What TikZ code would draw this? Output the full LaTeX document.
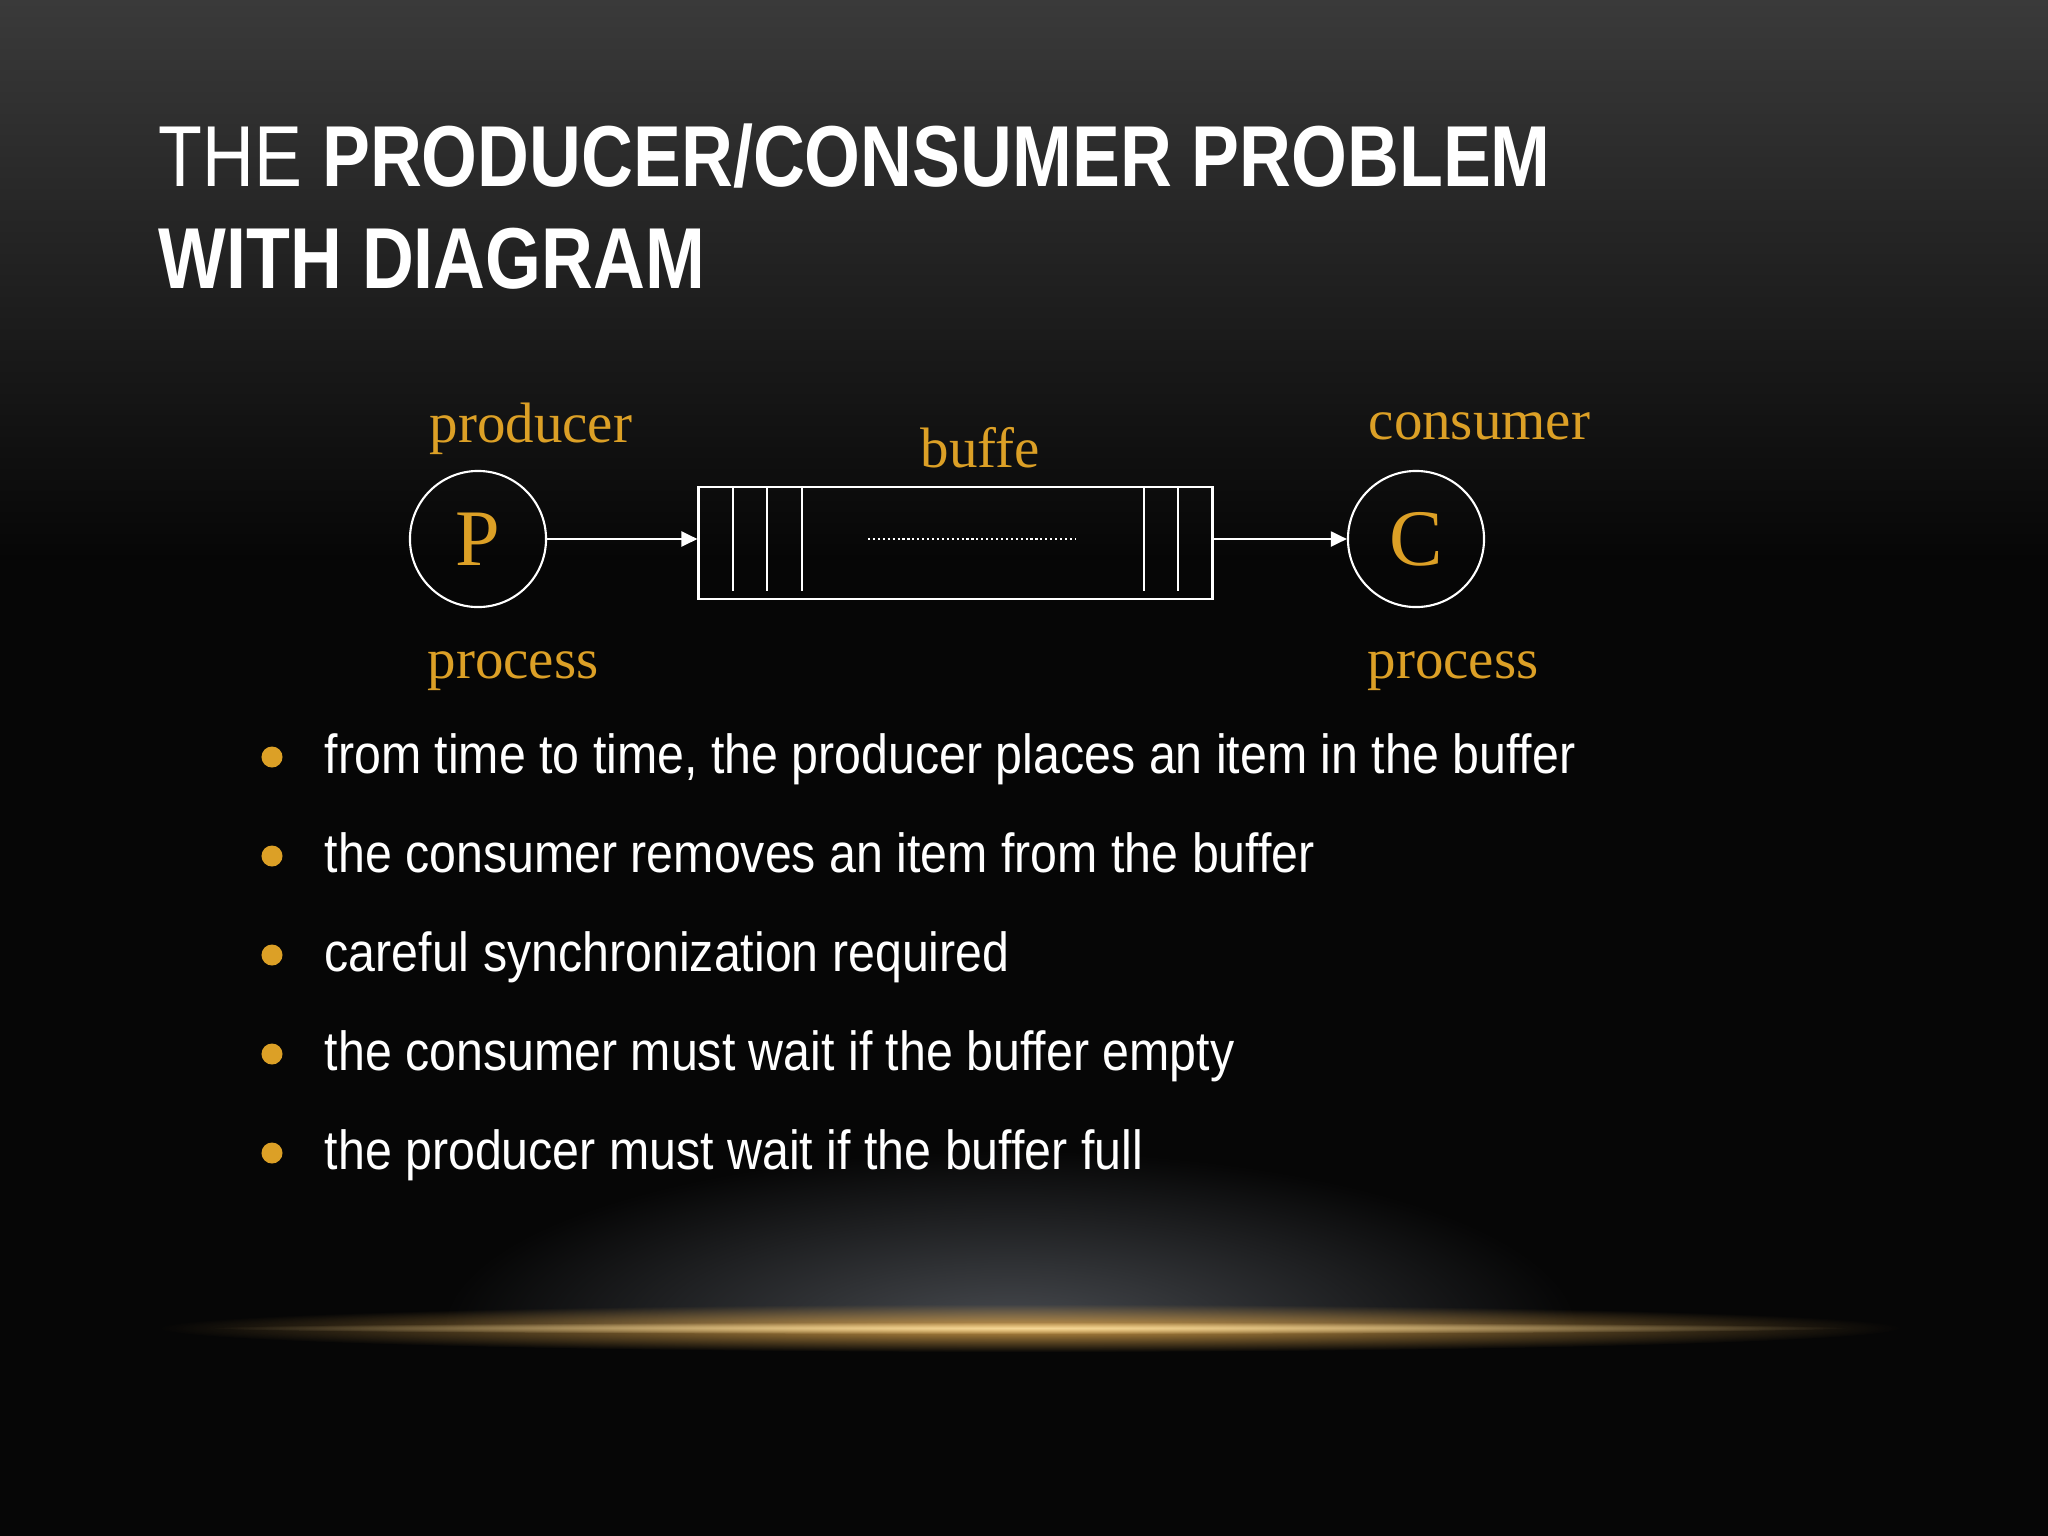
\documentclass[tikz,border=0pt]{standalone}
\usepackage{fontspec}
\setmainfont{Liberation Serif}
\newfontfamily\titlefont[FakeStretch=0.83]{Liberation Sans}
\newfontfamily\bodyfont[FakeStretch=0.878]{Liberation Sans}
\usetikzlibrary{arrows.meta,fadings}
\definecolor{gold}{RGB}{220,160,38}
\definecolor{bgtop}{RGB}{58,58,58}
\definecolor{bgbot}{RGB}{6,6,6}
\definecolor{spotgray}{RGB}{72,75,80}
\definecolor{goldglow}{RGB}{200,150,70}
\definecolor{goldcore}{RGB}{245,215,150}
\tikzfading[name=glowfade, inner color=transparent!0, outer color=transparent!100]
\begin{document}
\begin{tikzpicture}[x=0.01cm,y=-0.01cm,
  lbl/.style={text=gold, font=\fontsize{16.2pt}{18pt}\selectfont, anchor=base west, inner sep=0},
  proc/.style={circle, draw=white, line width=0.6pt, minimum size=1.36cm, inner sep=0, text=gold, font=\fontsize{22.8pt}{26pt}\selectfont},
  arr/.style={draw=white, line width=0.6pt, -{Triangle[length=0.16cm,width=0.15cm]}},
  bul/.style={text=white, font=\bodyfont\fontsize{15.65pt}{18pt}\selectfont, anchor=base west, inner sep=0},
  bulletdot/.style={circle, fill=gold, inner sep=0, minimum size=0.21cm},
  ttl/.style={text=white, font=\titlefont\fontsize{24.6pt}{28pt}\selectfont, anchor=base west, inner sep=0}
]
\useasboundingbox (0,0) rectangle (2048,1536);
% background
\fill[bgbot] (0,0) rectangle (2048,1536);
\shade[top color=bgtop, bottom color=bgbot] (0,0) rectangle (2048,560);
% spotlight and gold line
\begin{scope}
  \clip (0,0) rectangle (2048,1328);
  \fill[spotgray, path fading=glowfade] (1010,1330) ellipse [x radius=570, y radius=180];
\end{scope}
\fill[goldglow, path fading=glowfade] (1030,1328) ellipse [x radius=870, y radius=24];
\fill[goldcore, path fading=glowfade] (1030,1328) ellipse [x radius=820, y radius=6];

% title
\node[ttl] (t1) at (158,186) {THE \bfseries PRODUCER/CONSUMER PROBLEM};
\node[ttl] (t2) at (158,288) {\bfseries WITH DIAGRAM};

% diagram
\node[proc] (P) at (478,539) {P};
\node[proc] (C) at (1416,539) {C};
\node[draw=white, line width=0.8pt, minimum width=5.13cm, minimum height=1.12cm, inner sep=0] (buf) at (955.5,543) {};
\foreach \x in {733,767,802,1144,1178}
  \draw[white, line width=0.6pt] (\x,488) -- (\x,591);
\draw[white, line width=0.7pt, dash pattern=on 0.6pt off 0.8pt] (868,539) -- (1075,539);
\draw[arr] (P) -- (P -| buf.west);
\draw[arr] (P -| buf.east) -- (C);

\node[lbl] (lprod) at (429,442) {producer};
\node[lbl] (lbuf) at (920,467) {buffe};
\node[lbl] (lcons) at (1368,439) {consumer};
\node[lbl] (lpp) at (427,678) {process};
\node[lbl] (lcp) at (1367,678) {process};

% bullets
\node[bulletdot] (d1) at (272,757) {};
\node[bulletdot] (d2) at (272,856) {};
\node[bulletdot] (d3) at (272,955) {};
\node[bulletdot] (d4) at (272,1054) {};
\node[bulletdot] (d5) at (272,1153) {};
\node[bul] (b1) at (324,773) {from time to time, the producer places an item in the buffer};
\node[bul] (b2) at (324,872) {the consumer removes an item from the buffer};
\node[bul] (b3) at (324,971) {careful synchronization required};
\node[bul] (b4) at (324,1070) {the consumer must wait if the buffer empty};
\node[bul] (b5) at (324,1169) {the producer must wait if the buffer full};
\end{tikzpicture}
\end{document}
